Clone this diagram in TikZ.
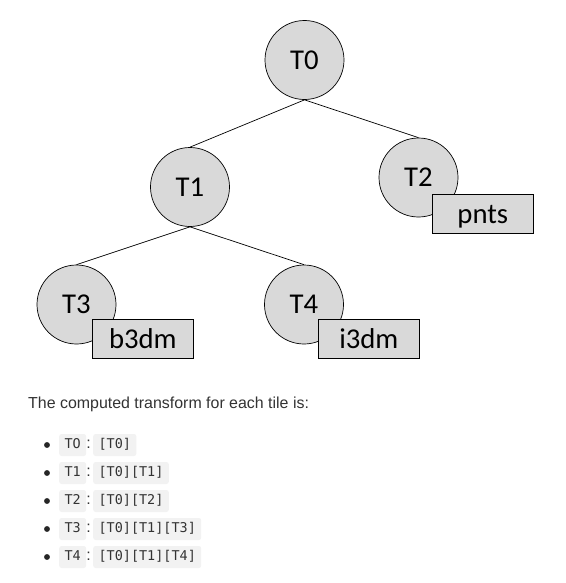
\documentclass[tikz,border=0pt]{standalone}
\usepackage{fontspec}
\setmainfont{Liberation Sans}
\setmonofont{DejaVu Sans Mono}
\newfontfamily\tilefont{Carlito}
\usetikzlibrary{positioning}
\definecolor{tileGray}{HTML}{D9D9D9}
\definecolor{chipGray}{HTML}{F2F2F2}
\definecolor{bodyText}{HTML}{333333}
\tikzset{
  edge/.style={black, line width=0.6pt},
  tile/.style={circle, draw=black, fill=tileGray, line width=0.6pt,
               minimum size=2.37cm, inner sep=0pt,
               font=\tilefont\fontsize{24.5}{28}\selectfont},
  content/.style={rectangle, draw=black, fill=tileGray, line width=0.6pt,
                  minimum width=3.03cm, minimum height=1.17cm, inner sep=0pt,
                  text height=25pt, text depth=8pt,
                  font=\tilefont\fontsize{24.5}{28}\selectfont},
  chip/.style={rectangle, rounded corners=2pt, fill=chipGray, text=bodyText,
               font=\ttfamily\fontsize{11.5}{13}\selectfont,
               inner xsep=0.16cm, inner ysep=0pt, minimum height=0.66cm,
               text height=1.6ex, text depth=0.35ex},
}
\begin{document}
\begin{tikzpicture}[x=0.03cm, y=-0.03cm]
    \useasboundingbox (0,0) rectangle (566,583);
    % tile tree
    \node[tile] (t0) at (304.5,60) {T0};
    \node[tile] (t1) at (190,187) {T1};
    \node[tile] (t2) at (418.5,177.5) {T2};
    \node[tile] (t3) at (76.5,304.5) {T3};
    \node[tile] (t4) at (304,304.5) {T4};
    \draw[edge] (t0.south) -- (t1.north);
    \draw[edge] (t0.south) -- (t2.north);
    \draw[edge] (t1.south) -- (t3.north);
    \draw[edge] (t1.south) -- (t4.north);
    \node[content, anchor=north west] (pnts) at (432,194) {pnts};
    \node[content, anchor=north west] (b3dm) at (92,319) {b3dm};
    \node[content, anchor=north west] (i3dm) at (318,319) {i3dm};
    % list below
    \node[anchor=base west, text=bodyText, inner sep=0pt,
          font=\fontsize{13.6}{16}\selectfont] (intro) at (28,408)
      {The computed transform for each tile is:};
    \foreach \key/\tr [count=\n from 0] in {TO/{[T0]}, T1/{[T0][T1]},
        T2/{[T0][T2]}, T3/{[T0][T1][T3]}, T4/{[T0][T1][T4]}} {
      \fill[black!85] (47,445+28*\n) circle[radius=2.5pt];
      \node[chip, anchor=west] (key\n) at (59,445+28*\n) {\key};
      \node[text=bodyText, inner sep=0pt, font=\fontsize{13.6}{16}\selectfont]
        (colon\n) at (88.5,444+28*\n) {:};
      \node[chip, anchor=west] (tr\n) at (93,445+28*\n) {\tr};
    }
\end{tikzpicture}
\end{document}
